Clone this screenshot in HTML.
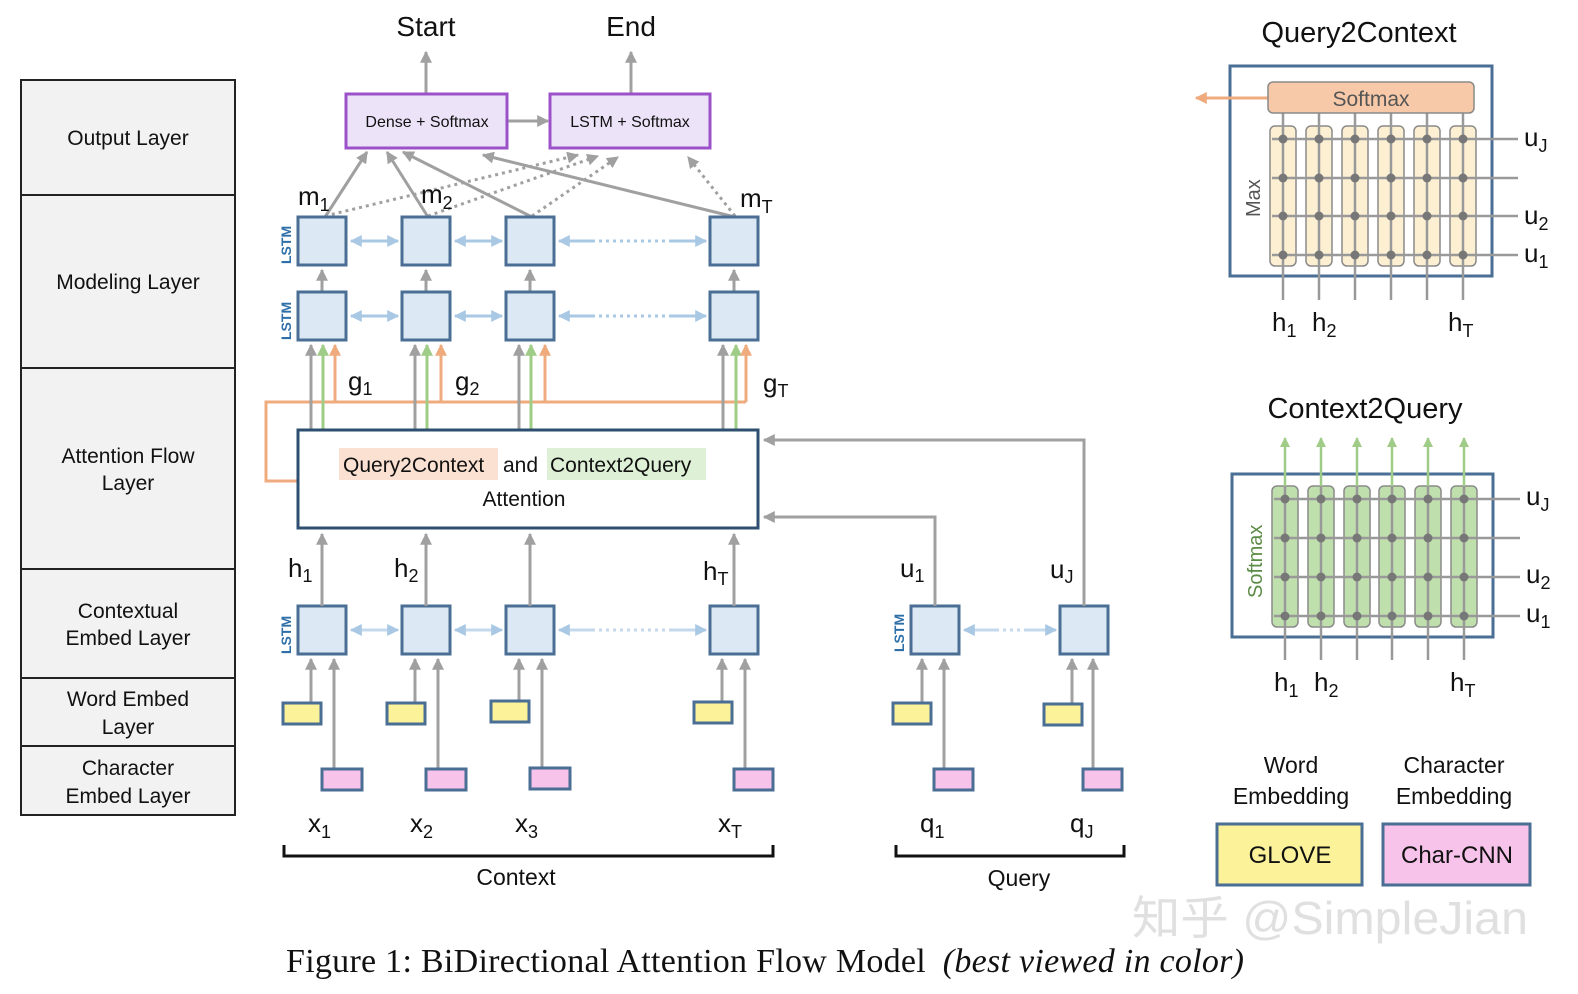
<!DOCTYPE html>
<html><head><meta charset="utf-8"><style>
html,body{margin:0;padding:0;background:#fff;}
svg{display:block;}
text{font-family:"Liberation Sans",sans-serif;fill:#111;}
</style></head><body>
<svg width="1578" height="994" viewBox="0 0 1578 994" xmlns="http://www.w3.org/2000/svg">
<defs>
<marker id="ag" viewBox="0 0 10 10" refX="9" refY="5" markerWidth="4" markerHeight="4" orient="auto-start-reverse"><path d="M0,0L10,5L0,10z" fill="#a0a0a0"/></marker>
<marker id="ab" viewBox="0 0 10 10" refX="9" refY="5" markerWidth="4" markerHeight="4" orient="auto-start-reverse"><path d="M0,0L10,5L0,10z" fill="#a9c8e4"/></marker>
<marker id="agr" viewBox="0 0 10 10" refX="9" refY="5" markerWidth="4" markerHeight="4" orient="auto"><path d="M0,0L10,5L0,10z" fill="#9fcc86"/></marker>
<marker id="ao" viewBox="0 0 10 10" refX="9" refY="5" markerWidth="4" markerHeight="4" orient="auto"><path d="M0,0L10,5L0,10z" fill="#efab7d"/></marker>
</defs>

<!-- Left layer panel -->
<g fill="#f2f2f2" stroke="#222" stroke-width="2">
<rect x="21" y="80" width="214" height="115"/>
<rect x="21" y="195" width="214" height="173"/>
<rect x="21" y="368" width="214" height="201"/>
<rect x="21" y="569" width="214" height="109"/>
<rect x="21" y="678" width="214" height="68"/>
<rect x="21" y="746" width="214" height="69"/>
</g>
<g font-size="21" text-anchor="middle">
<text x="128" y="145">Output Layer</text>
<text x="128" y="289">Modeling Layer</text>
<text x="128" y="463">Attention Flow</text><text x="128" y="490">Layer</text>
<text x="128" y="618">Contextual</text><text x="128" y="645">Embed Layer</text>
<text x="128" y="706">Word Embed</text><text x="128" y="734">Layer</text>
<text x="128" y="775">Character</text><text x="128" y="803">Embed Layer</text>
</g>

<!-- Start / End -->
<text x="426" y="36" font-size="28" text-anchor="middle">Start</text>
<text x="631" y="36" font-size="28" text-anchor="middle">End</text>
<g stroke="#a0a0a0" stroke-width="3" fill="none">
<line x1="426" y1="94" x2="426" y2="52" marker-end="url(#ag)"/>
<line x1="631" y1="94" x2="631" y2="52" marker-end="url(#ag)"/>
<line x1="507" y1="121" x2="548" y2="121" marker-end="url(#ag)"/>
</g>
<rect x="346" y="94" width="161" height="54" fill="#ece3f8" stroke="#9b52c9" stroke-width="3"/>
<rect x="550" y="94" width="160" height="54" fill="#ece3f8" stroke="#9b52c9" stroke-width="3"/>
<text x="427" y="127" font-size="16" text-anchor="middle">Dense + Softmax</text>
<text x="630" y="127" font-size="16" text-anchor="middle">LSTM + Softmax</text>

<!-- m arrows -->
<g stroke="#a0a0a0" stroke-width="3" fill="none">
<line x1="325" y1="217" x2="367" y2="152" marker-end="url(#ag)"/>
<line x1="428" y1="217" x2="387" y2="152" marker-end="url(#ag)"/>
<line x1="532" y1="217" x2="403" y2="152" marker-end="url(#ag)"/>
<line x1="735" y1="217" x2="483" y2="155" marker-end="url(#ag)"/>
</g>
<g stroke="#a0a0a0" stroke-width="3" fill="none" stroke-dasharray="3,4">
<line x1="325" y1="216" x2="578" y2="155" marker-end="url(#ag)"/>
<line x1="428" y1="216" x2="598" y2="156" marker-end="url(#ag)"/>
<line x1="532" y1="216" x2="618" y2="157" marker-end="url(#ag)"/>
<line x1="735" y1="216" x2="688" y2="157" marker-end="url(#ag)"/>
</g>
<g font-size="26">
<text x="298" y="205">m<tspan font-size="18" dy="6">1</tspan></text>
<text x="421" y="203">m<tspan font-size="18" dy="6">2</tspan></text>
<text x="740" y="207">m<tspan font-size="18" dy="6">T</tspan></text>
</g>

<!-- Modeling LSTMs -->
<g stroke="#a9c8e4" stroke-width="3" fill="none">
<line x1="351" y1="241" x2="398" y2="241" marker-start="url(#ab)" marker-end="url(#ab)"/>
<line x1="455" y1="241" x2="502" y2="241" marker-start="url(#ab)" marker-end="url(#ab)"/>
<line x1="559" y1="241" x2="592" y2="241" marker-start="url(#ab)"/>
<line x1="672" y1="241" x2="706" y2="241" marker-end="url(#ab)"/>
<line x1="592" y1="241" x2="672" y2="241" stroke-dasharray="3,4"/>
<line x1="351" y1="316" x2="398" y2="316" marker-start="url(#ab)" marker-end="url(#ab)"/>
<line x1="455" y1="316" x2="502" y2="316" marker-start="url(#ab)" marker-end="url(#ab)"/>
<line x1="559" y1="316" x2="592" y2="316" marker-start="url(#ab)"/>
<line x1="672" y1="316" x2="706" y2="316" marker-end="url(#ab)"/>
<line x1="592" y1="316" x2="672" y2="316" stroke-dasharray="3,4"/>
</g>
<g stroke="#a0a0a0" stroke-width="3">
<line x1="322" y1="292" x2="322" y2="270" marker-end="url(#ag)"/>
<line x1="426" y1="292" x2="426" y2="270" marker-end="url(#ag)"/>
<line x1="530" y1="292" x2="530" y2="270" marker-end="url(#ag)"/>
<line x1="734" y1="292" x2="734" y2="270" marker-end="url(#ag)"/>
</g>
<g fill="#dde8f5" stroke="#4a6e94" stroke-width="3">
<rect x="298" y="217" width="48" height="48"/><rect x="402" y="217" width="48" height="48"/><rect x="506" y="217" width="48" height="48"/><rect x="710" y="217" width="48" height="48"/>
<rect x="298" y="292" width="48" height="48"/><rect x="402" y="292" width="48" height="48"/><rect x="506" y="292" width="48" height="48"/><rect x="710" y="292" width="48" height="48"/>
<rect x="298" y="606" width="48" height="48"/><rect x="402" y="606" width="48" height="48"/><rect x="506" y="606" width="48" height="48"/><rect x="710" y="606" width="48" height="48"/>
<rect x="911" y="606" width="48" height="48"/><rect x="1060" y="606" width="48" height="48"/>
</g>
<g font-size="14" font-weight="bold">
<text transform="translate(291,264) rotate(-90)" style="fill:#2f6fa8">LSTM</text>
<text transform="translate(291,340) rotate(-90)" style="fill:#2f6fa8">LSTM</text>
<text transform="translate(291,654) rotate(-90)" style="fill:#2f6fa8">LSTM</text>
<text transform="translate(904,652) rotate(-90)" style="fill:#2f6fa8">LSTM</text>
</g>

<!-- g arrows -->
<path d="M298,481 H266 V402 H746" stroke="#efab7d" stroke-width="3" fill="none"/>
<g stroke-width="3">
<g stroke="#a0a0a0">
<line x1="311" y1="430" x2="311" y2="345" marker-end="url(#ag)"/>
<line x1="415" y1="430" x2="415" y2="345" marker-end="url(#ag)"/>
<line x1="519" y1="430" x2="519" y2="345" marker-end="url(#ag)"/>
<line x1="723" y1="430" x2="723" y2="345" marker-end="url(#ag)"/>
</g>
<g stroke="#9fcc86">
<line x1="323" y1="430" x2="323" y2="345" marker-end="url(#agr)"/>
<line x1="427" y1="430" x2="427" y2="345" marker-end="url(#agr)"/>
<line x1="531" y1="430" x2="531" y2="345" marker-end="url(#agr)"/>
<line x1="736" y1="430" x2="736" y2="345" marker-end="url(#agr)"/>
</g>
<g stroke="#efab7d">
<line x1="335" y1="402" x2="335" y2="345" marker-end="url(#ao)"/>
<line x1="441" y1="402" x2="441" y2="345" marker-end="url(#ao)"/>
<line x1="545" y1="402" x2="545" y2="345" marker-end="url(#ao)"/>
<line x1="746" y1="402" x2="746" y2="345" marker-end="url(#ao)"/>
</g>
</g>
<g font-size="26">
<text x="348" y="390">g<tspan font-size="18" dy="5">1</tspan></text>
<text x="455" y="390">g<tspan font-size="18" dy="5">2</tspan></text>
<text x="763" y="392">g<tspan font-size="18" dy="5">T</tspan></text>
</g>

<!-- Attention box -->
<rect x="298" y="430" width="460" height="98" fill="#fff" stroke="#2e4f70" stroke-width="3"/>
<rect x="339" y="448" width="159" height="32" fill="#fbe1d2"/>
<rect x="547" y="448" width="159" height="32" fill="#def0d6"/>
<text x="343" y="472" font-size="21">Query2Context</text>
<text x="503" y="472" font-size="21">and</text>
<text x="550" y="472" font-size="21">Context2Query</text>
<text x="524" y="506" font-size="21" text-anchor="middle">Attention</text>

<!-- query to attention -->
<g stroke="#a0a0a0" stroke-width="3" fill="none">
<path d="M935,606 V517 H764" marker-end="url(#ag)"/>
<path d="M1084,606 V440 H764" marker-end="url(#ag)"/>
<line x1="322" y1="606" x2="322" y2="534" marker-end="url(#ag)"/>
<line x1="426" y1="606" x2="426" y2="534" marker-end="url(#ag)"/>
<line x1="530" y1="606" x2="530" y2="534" marker-end="url(#ag)"/>
<line x1="734" y1="606" x2="734" y2="534" marker-end="url(#ag)"/>
</g>
<g font-size="26">
<text x="288" y="577">h<tspan font-size="18" dy="5">1</tspan></text>
<text x="394" y="577">h<tspan font-size="18" dy="5">2</tspan></text>
<text x="703" y="580">h<tspan font-size="18" dy="5">T</tspan></text>
<text x="900" y="577">u<tspan font-size="18" dy="5">1</tspan></text>
<text x="1050" y="578">u<tspan font-size="18" dy="5">J</tspan></text>
</g>

<!-- contextual horizontal -->
<g stroke="#c4d9ec" stroke-width="3" fill="none">
<line x1="351" y1="630" x2="398" y2="630" marker-start="url(#ab)" marker-end="url(#ab)"/>
<line x1="455" y1="630" x2="502" y2="630" marker-start="url(#ab)" marker-end="url(#ab)"/>
<line x1="559" y1="630" x2="592" y2="630" marker-start="url(#ab)"/>
<line x1="672" y1="630" x2="706" y2="630" marker-end="url(#ab)"/>
<line x1="592" y1="630" x2="672" y2="630" stroke-dasharray="3,4"/>
<line x1="964" y1="630" x2="996" y2="630" marker-start="url(#ab)"/>
<line x1="1024" y1="630" x2="1056" y2="630" marker-end="url(#ab)"/>
<line x1="996" y1="630" x2="1024" y2="630" stroke-dasharray="3,4"/>
</g>

<!-- embed inputs -->
<g stroke="#a0a0a0" stroke-width="3">
<line x1="311" y1="703" x2="311" y2="659" marker-end="url(#ag)"/>
<line x1="334" y1="769" x2="334" y2="659" marker-end="url(#ag)"/>
<line x1="415" y1="703" x2="415" y2="659" marker-end="url(#ag)"/>
<line x1="438" y1="769" x2="438" y2="659" marker-end="url(#ag)"/>
<line x1="519" y1="701" x2="519" y2="659" marker-end="url(#ag)"/>
<line x1="542" y1="768" x2="542" y2="659" marker-end="url(#ag)"/>
<line x1="722" y1="702" x2="722" y2="659" marker-end="url(#ag)"/>
<line x1="745" y1="769" x2="745" y2="659" marker-end="url(#ag)"/>
<line x1="922" y1="703" x2="922" y2="659" marker-end="url(#ag)"/>
<line x1="944" y1="769" x2="944" y2="659" marker-end="url(#ag)"/>
<line x1="1072" y1="704" x2="1072" y2="659" marker-end="url(#ag)"/>
<line x1="1093" y1="769" x2="1093" y2="659" marker-end="url(#ag)"/>
</g>
<g fill="#fbf29a" stroke="#4a6e94" stroke-width="3">
<rect x="283" y="703" width="38" height="21"/><rect x="387" y="703" width="38" height="21"/><rect x="491" y="701" width="38" height="21"/><rect x="694" y="702" width="38" height="21"/>
<rect x="893" y="703" width="38" height="21"/><rect x="1044" y="704" width="38" height="21"/>
</g>
<g fill="#f8c3ea" stroke="#4a6e94" stroke-width="3">
<rect x="322" y="769" width="40" height="21"/><rect x="426" y="769" width="40" height="21"/><rect x="530" y="768" width="40" height="21"/><rect x="734" y="769" width="39" height="21"/>
<rect x="934" y="769" width="39" height="21"/><rect x="1083" y="769" width="39" height="21"/>
</g>
<g font-size="26">
<text x="308" y="832">x<tspan font-size="18" dy="6">1</tspan></text>
<text x="410" y="832">x<tspan font-size="18" dy="6">2</tspan></text>
<text x="515" y="832">x<tspan font-size="18" dy="6">3</tspan></text>
<text x="718" y="832">x<tspan font-size="18" dy="6">T</tspan></text>
<text x="920" y="832">q<tspan font-size="18" dy="6">1</tspan></text>
<text x="1070" y="832">q<tspan font-size="18" dy="6">J</tspan></text>
</g>
<g stroke="#111" stroke-width="3" fill="none">
<path d="M284,845 V856 H773 V845"/>
<path d="M896,845 V856 H1124 V845"/>
</g>
<text x="516" y="885" font-size="23" text-anchor="middle">Context</text>
<text x="1019" y="886" font-size="23" text-anchor="middle">Query</text>

<!-- Query2Context panel -->
<text x="1359" y="42" font-size="29" text-anchor="middle">Query2Context</text>
<rect x="1230" y="66" width="262" height="210" fill="#fff" stroke="#4a6e94" stroke-width="3"/>
<line x1="1268" y1="98" x2="1196" y2="98" stroke="#efab7d" stroke-width="3" marker-end="url(#ao)"/>
<g fill="#fdefd2" stroke="#8a8a8a" stroke-width="1.5">
<rect x="1270" y="126" width="26" height="140" rx="5"/><rect x="1306" y="126" width="26" height="140" rx="5"/><rect x="1342" y="126" width="26" height="140" rx="5"/><rect x="1378" y="126" width="26" height="140" rx="5"/><rect x="1414" y="126" width="26" height="140" rx="5"/><rect x="1450" y="126" width="26" height="140" rx="5"/>
</g>
<g stroke="#999" stroke-width="2.5">
<line x1="1283" y1="113" x2="1283" y2="300"/><line x1="1319" y1="113" x2="1319" y2="300"/><line x1="1355" y1="113" x2="1355" y2="300"/><line x1="1391" y1="113" x2="1391" y2="300"/><line x1="1427" y1="113" x2="1427" y2="300"/><line x1="1463" y1="113" x2="1463" y2="300"/>
<line x1="1272" y1="139" x2="1518" y2="139"/><line x1="1272" y1="178" x2="1518" y2="178"/><line x1="1272" y1="216" x2="1518" y2="216"/><line x1="1272" y1="255" x2="1518" y2="255"/>
</g>
<g fill="#777">
<circle cx="1283" cy="139" r="4.5"/><circle cx="1319" cy="139" r="4.5"/><circle cx="1355" cy="139" r="4.5"/><circle cx="1391" cy="139" r="4.5"/><circle cx="1427" cy="139" r="4.5"/><circle cx="1463" cy="139" r="4.5"/>
<circle cx="1283" cy="178" r="4.5"/><circle cx="1319" cy="178" r="4.5"/><circle cx="1355" cy="178" r="4.5"/><circle cx="1391" cy="178" r="4.5"/><circle cx="1427" cy="178" r="4.5"/><circle cx="1463" cy="178" r="4.5"/>
<circle cx="1283" cy="216" r="4.5"/><circle cx="1319" cy="216" r="4.5"/><circle cx="1355" cy="216" r="4.5"/><circle cx="1391" cy="216" r="4.5"/><circle cx="1427" cy="216" r="4.5"/><circle cx="1463" cy="216" r="4.5"/>
<circle cx="1283" cy="255" r="4.5"/><circle cx="1319" cy="255" r="4.5"/><circle cx="1355" cy="255" r="4.5"/><circle cx="1391" cy="255" r="4.5"/><circle cx="1427" cy="255" r="4.5"/><circle cx="1463" cy="255" r="4.5"/>
</g>
<rect x="1268" y="82" width="206" height="31" rx="5" fill="#f7c9a8" stroke="#8a8a8a" stroke-width="1.5"/>
<text x="1371" y="106" font-size="21" text-anchor="middle" style="fill:#555">Softmax</text>
<text transform="translate(1260,217) rotate(-90)" font-size="20" style="fill:#555">Max</text>
<g font-size="26">
<text x="1524" y="146">u<tspan font-size="18" dy="6">J</tspan></text>
<text x="1524" y="224">u<tspan font-size="18" dy="6">2</tspan></text>
<text x="1524" y="262">u<tspan font-size="18" dy="6">1</tspan></text>
<text x="1272" y="331">h<tspan font-size="18" dy="6">1</tspan></text>
<text x="1312" y="331">h<tspan font-size="18" dy="6">2</tspan></text>
<text x="1448" y="331">h<tspan font-size="18" dy="6">T</tspan></text>
</g>

<!-- Context2Query panel -->
<text x="1365" y="418" font-size="29" text-anchor="middle">Context2Query</text>
<rect x="1232" y="474" width="261" height="163" fill="#fff" stroke="#4a6e94" stroke-width="3"/>
<g fill="#bfe0ad" stroke="#8a8a8a" stroke-width="1.5">
<rect x="1272" y="486" width="26" height="141" rx="5"/><rect x="1308" y="486" width="26" height="141" rx="5"/><rect x="1344" y="486" width="26" height="141" rx="5"/><rect x="1379" y="486" width="26" height="141" rx="5"/><rect x="1415" y="486" width="26" height="141" rx="5"/><rect x="1451" y="486" width="26" height="141" rx="5"/>
</g>
<g stroke="#999" stroke-width="2.5">
<line x1="1285" y1="660" x2="1285" y2="486"/><line x1="1321" y1="660" x2="1321" y2="486"/><line x1="1357" y1="660" x2="1357" y2="486"/><line x1="1392" y1="660" x2="1392" y2="486"/><line x1="1428" y1="660" x2="1428" y2="486"/><line x1="1464" y1="660" x2="1464" y2="486"/>
<line x1="1274" y1="499" x2="1520" y2="499"/><line x1="1274" y1="538" x2="1520" y2="538"/><line x1="1274" y1="577" x2="1520" y2="577"/><line x1="1274" y1="616" x2="1520" y2="616"/>
</g>
<g stroke="#9fcc86" stroke-width="2.5">
<line x1="1285" y1="486" x2="1285" y2="438" marker-end="url(#agr)"/><line x1="1321" y1="486" x2="1321" y2="438" marker-end="url(#agr)"/><line x1="1357" y1="486" x2="1357" y2="438" marker-end="url(#agr)"/><line x1="1392" y1="486" x2="1392" y2="438" marker-end="url(#agr)"/><line x1="1428" y1="486" x2="1428" y2="438" marker-end="url(#agr)"/><line x1="1464" y1="486" x2="1464" y2="438" marker-end="url(#agr)"/>
</g>
<g fill="#777">
<circle cx="1285" cy="499" r="4.5"/><circle cx="1321" cy="499" r="4.5"/><circle cx="1357" cy="499" r="4.5"/><circle cx="1392" cy="499" r="4.5"/><circle cx="1428" cy="499" r="4.5"/><circle cx="1464" cy="499" r="4.5"/>
<circle cx="1285" cy="538" r="4.5"/><circle cx="1321" cy="538" r="4.5"/><circle cx="1357" cy="538" r="4.5"/><circle cx="1392" cy="538" r="4.5"/><circle cx="1428" cy="538" r="4.5"/><circle cx="1464" cy="538" r="4.5"/>
<circle cx="1285" cy="577" r="4.5"/><circle cx="1321" cy="577" r="4.5"/><circle cx="1357" cy="577" r="4.5"/><circle cx="1392" cy="577" r="4.5"/><circle cx="1428" cy="577" r="4.5"/><circle cx="1464" cy="577" r="4.5"/>
<circle cx="1285" cy="616" r="4.5"/><circle cx="1321" cy="616" r="4.5"/><circle cx="1357" cy="616" r="4.5"/><circle cx="1392" cy="616" r="4.5"/><circle cx="1428" cy="616" r="4.5"/><circle cx="1464" cy="616" r="4.5"/>
</g>
<text transform="translate(1262,598) rotate(-90)" font-size="20" style="fill:#5b8c45">Softmax</text>
<g font-size="26">
<text x="1526" y="505">u<tspan font-size="18" dy="6">J</tspan></text>
<text x="1526" y="583">u<tspan font-size="18" dy="6">2</tspan></text>
<text x="1526" y="622">u<tspan font-size="18" dy="6">1</tspan></text>
<text x="1274" y="691">h<tspan font-size="18" dy="6">1</tspan></text>
<text x="1314" y="691">h<tspan font-size="18" dy="6">2</tspan></text>
<text x="1450" y="691">h<tspan font-size="18" dy="6">T</tspan></text>
</g>

<!-- Legend -->
<g font-size="23" text-anchor="middle">
<text x="1291" y="773">Word</text><text x="1291" y="804">Embedding</text>
<text x="1454" y="773">Character</text><text x="1454" y="804">Embedding</text>
</g>
<rect x="1217" y="824" width="145" height="61" fill="#fbf29a" stroke="#4a6e94" stroke-width="3"/>
<rect x="1383" y="824" width="147" height="61" fill="#f8c3ea" stroke="#4a6e94" stroke-width="3"/>
<text x="1290" y="863" font-size="24" text-anchor="middle">GLOVE</text>
<text x="1457" y="863" font-size="24" text-anchor="middle">Char-CNN</text>

<!-- watermark -->
<text x="1132" y="934" font-size="46" textLength="396" lengthAdjust="spacingAndGlyphs" style="fill:#e0e0e0;font-family:'Liberation Sans','Noto Sans CJK SC',sans-serif">知乎 @SimpleJian</text>

<!-- caption -->
<text x="286" y="972" font-size="34" textLength="958" lengthAdjust="spacing" style="font-family:'Liberation Serif',serif">Figure 1: BiDirectional Attention Flow Model <tspan font-style="italic" dx="8">(best viewed in color)</tspan></text>
</svg>
</body></html>
